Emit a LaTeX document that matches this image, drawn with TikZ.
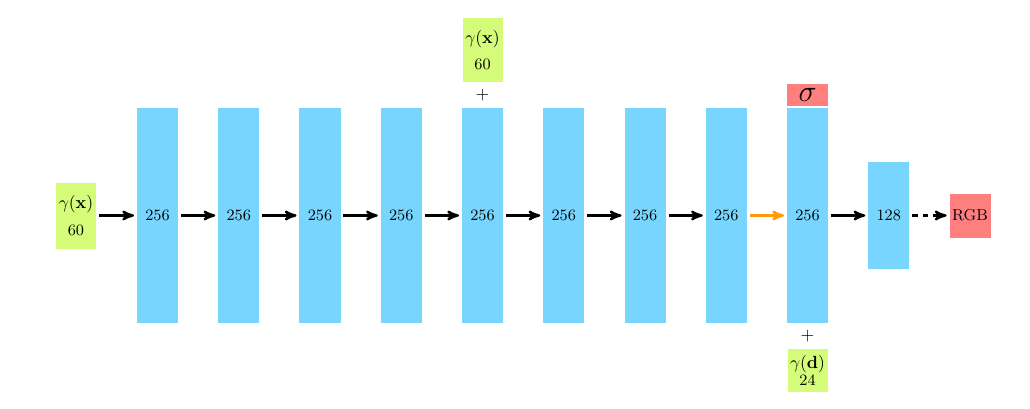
\documentclass[tikz,border=0pt]{standalone}
\usepackage{amsmath}
\usepackage{tikz}
\usetikzlibrary{arrows,positioning}

\definecolor{fcblue}{HTML}{77D5FE}
\definecolor{posgreen}{HTML}{D4FC79}
\definecolor{outred}{HTML}{FF7F7F}
\definecolor{skiporange}{HTML}{FF9A0A}

\begin{document}
\begin{tikzpicture}[>=stealth', semithick, auto, node distance=0.805cm]

    \tikzstyle{fc} = [rectangle, fill=fcblue, minimum width=0.82cm, minimum height=4.3cm, inner sep=0pt, outer sep=0pt, text centered, font=\small]
    \tikzstyle{enc} = [rectangle, fill=posgreen, minimum width=0.8cm, inner sep=0pt, outer sep=0pt, align=center, font=\small]
    \tikzstyle{outbox} = [rectangle, fill=outred, minimum width=0.82cm, inner sep=0pt, outer sep=0pt, text centered, font=\small]
    \tikzstyle{flow} = [->, line width=1.3pt, shorten <=0.06cm, shorten >=0.06cm]

    \useasboundingbox (-3.15,-3.85) rectangle (17.45,4.31);

    \node (fc1)  [fc]                     {256};
    \node (fc2)  [fc, right=of fc1]       {256};
    \node (fc3)  [fc, right=of fc2]       {256};
    \node (fc4)  [fc, right=of fc3]       {256};
    \node (fc5)  [fc, right=of fc4]       {256};
    \node (fc6)  [fc, right=of fc5]       {256};
    \node (fc7)  [fc, right=of fc6]       {256};
    \node (fc8)  [fc, right=of fc7]       {256};
    \node (fc9)  [fc, right=of fc8]       {256};
    \node (fc10) [fc, minimum height=2.14cm, right=of fc9] {128};

    \node (input)  [enc, minimum height=1.32cm, left=0.82cm of fc1]     {{\normalsize$\gamma(\mathbf{x})$}\\[4pt]60};

    \node (plusx)  [inner sep=0pt, font=\normalsize, above=0.13cm of fc5] {$+$};
    \node (skip)   [enc, minimum height=1.28cm, above=0.13cm of plusx]    {{\normalsize$\gamma(\mathbf{x})$}\\[4pt]60};

    \node (plusd)  [inner sep=0pt, font=\normalsize, below=0.13cm of fc9] {$+$};
    \node (dir)    [enc, minimum height=0.86cm, below=0.13cm of plusd]    {{\normalsize$\gamma(\mathbf{d})$}\\[-1pt]24};

    \node (sigma)  [outbox, minimum height=0.44cm, font=\LARGE, above=0.05cm of fc9] {$\sigma$};
    \node (rgb)    [outbox, minimum height=0.88cm, right=of fc10]         {RGB};

    \draw[flow]  (input) -- (fc1);
    \draw[flow]  (fc1)   -- (fc2);
    \draw[flow]  (fc2)   -- (fc3);
    \draw[flow]  (fc3)   -- (fc4);
    \draw[flow]  (fc4)   -- (fc5);
    \draw[flow]  (fc5)   -- (fc6);
    \draw[flow]  (fc6)   -- (fc7);
    \draw[flow]  (fc7)   -- (fc8);
    \draw[flow, skiporange] (fc8) -- (fc9);
    \draw[flow]  (fc9)   -- (fc10);
    \draw[flow, dashed]  (fc10) -- (rgb);
\end{tikzpicture}
\end{document}
